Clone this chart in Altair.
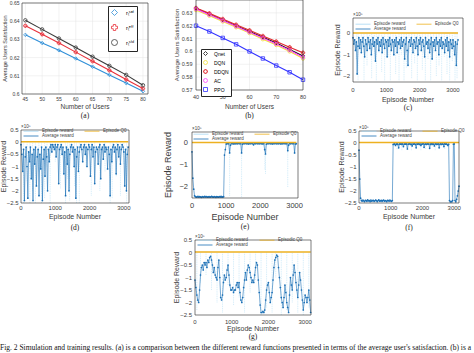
import altair as alt
import pandas as pd

W, H = 474, 353
FONT = "Liberation Sans"
SERIF = "Liberation Serif"
INK = "#262626"
TXT = "#3c3c3c"
GRID = "#e4e4e4"

# ---------------- panel (a) ----------------
a_users = [45, 50, 55, 60, 65, 70, 75, 80]
a_names = ["rₜˢᵃᵗ", "rₜᵉᶠᶠ", "rₜˢᵗᵈ"]
a_blue = [0.6325, 0.628, 0.624, 0.6195, 0.615, 0.6105, 0.606, 0.6015]
a_red = [0.6375, 0.6328, 0.628, 0.623, 0.618, 0.613, 0.608, 0.603]
a_black = [0.6405, 0.6355, 0.6305, 0.6255, 0.6205, 0.6155, 0.6105, 0.6048]
a_xticks = [45, 50, 55, 60, 65, 70, 75, 80]
a_yticks = [0.6, 0.61, 0.62, 0.63, 0.64, 0.65]

# ---------------- panel (b) ----------------
b_users = [40, 45, 50, 55, 60, 65, 70, 75, 80]
b_names = ["Qnet", "DQN", "DDQN", "AC", "PPO"]
b_qnet = [0.6335, 0.629, 0.6245, 0.620, 0.6155, 0.611, 0.6065, 0.6015, 0.5965]
b_dqn = [0.6322, 0.6278, 0.6233, 0.6188, 0.6143, 0.6095, 0.605, 0.6, 0.5945]
b_ddqn = [0.6338, 0.6296, 0.6252, 0.6208, 0.6164, 0.612, 0.6077, 0.6033, 0.599]
b_ac = [0.633, 0.6285, 0.624, 0.6195, 0.615, 0.6105, 0.6058, 0.601, 0.5955]
b_ppo = [0.620, 0.6155, 0.6105, 0.6055, 0.6, 0.5945, 0.589, 0.5838, 0.578]
b_xticks = [40, 50, 60, 70, 80]
b_yticks = [0.57, 0.58, 0.59, 0.6, 0.61, 0.62, 0.63]

# ---------------- training curves (x10^5), sampled every EP_STEP episodes ----------------
EP_STEP = 25
ep_names = ["Episode reward", "Episode Q0", "Average reward"]
g_names = ["Episodic reward", "Episodic Q0", "Average reward"]

c_avg = [-0.2, -0.5, -0.3, -0.8, -0.4, -1.9, -0.6, -0.2, -0.7, -0.3,
         -0.9, -0.4, -0.2, -0.6, -1.1, -0.3, -0.5, -0.8, -0.2, -0.4,
         -0.7, -0.3, -1.0, -0.5, -0.2, -0.6, -0.4, -1.3, -0.3, -0.5,
         -0.2, -0.8, -0.4, -0.6, -0.3, -0.9, -0.2, -0.5, -0.7, -0.3,
         -0.4, -1.1, -0.3, -0.6, -0.2, -0.5, -0.8, -0.3, -0.4, -1.0,
         -0.3, -0.6, -0.2, -0.9, -0.4, -0.5, -0.3, -0.7, -0.2, -0.6,
         -0.4, -0.3, -1.2, -0.5, -0.2, -0.8, -1.5, -0.4, -0.3, -0.6,
         -0.2, -0.5, -0.9, -0.3, -0.4, -0.7, -0.2, -0.6, -1.0, -0.3,
         -0.5, -0.2, -0.8, -0.4, -0.3, -0.6, -1.1, -0.2, -0.5, -0.4,
         -0.7, -0.3, -0.9, -0.5, -0.2, -1.2, -0.4, -0.6, -0.3, -0.8,
         -0.2, -0.5, -0.4, -1.0, -0.3, -0.6, -0.2, -0.7, -0.4, -0.5,
         -0.9, -0.3, -0.6, -0.2, -0.8, -0.4, -1.1, -0.3, -0.5, -0.7,
         -0.3, -0.6, -1.0, -0.4, -1.5, -0.5, -0.3]
c_spike_x = [100, 150, 250, 330, 420, 500, 560, 640, 700, 780, 860, 950, 1050, 1120,
             1200, 1280, 1380, 1450, 1530, 1600, 1680, 1760, 1850, 1930, 2000, 2080,
             2170, 2250, 2330, 2420, 2500, 2580, 2660, 2740, 2820, 2900, 2980, 3060, 3120]
c_spike_y = [-1.2, -2.2, -0.9, -2.2, -1.5, -0.8, -2.1, -1.3, -2.2, -0.9, -1.8, -2.2, -1.1,
             -2.2, -0.7, -1.9, -2.2, -1.0, -2.2, -1.6, -0.9, -2.1, -1.4, -2.2, -0.8, -1.7,
             -2.2, -1.2, -2.2, -0.9, -2.0, -1.5, -2.2, -1.1, -1.9, -2.2, -1.3, -2.2, -2.1]

d_avg = [-0.1, -0.5, -1.2, -0.3, -2.4, -0.6, -0.2, -1.0, -2.3, -0.4,
         -0.8, -0.2, -1.5, -0.5, -2.4, -0.3, -0.9, -0.2, -1.8, -0.6,
         -0.3, -2.2, -0.5, -1.1, -0.2, -2.4, -0.7, -0.3, -1.4, -0.2,
         -0.6, -2.0, -0.3, -0.8, -0.2, -0.1, -0.4, -0.1, -0.2, -0.3,
         -0.1, -0.6, -0.2, -0.1, -1.7, -0.3, -0.2, -0.1, -0.5, -0.2,
         -1.3, -0.4, -2.2, -0.2, -0.9, -0.3, -2.0, -0.5, -0.2, -0.1,
         -0.4, -0.2, -1.0, -0.3, -2.3, -0.6, -0.2, -1.2, -0.4, -0.2,
         -0.1, -0.3, -0.8, -0.2, -0.1, -0.5, -0.2, -1.0, -0.3, -0.1,
         -0.2, -1.4, -0.3, -0.1, -0.6, -0.2, -1.7, -0.4, -0.2, -0.3,
         -0.9, -0.2, -0.1, -1.5, -0.3, -0.2, -0.7, -0.1, -0.4, -0.2,
         -0.3, -1.1, -0.2, -0.5, -2.2, -0.3, -0.8, -0.2, -0.1, -0.4,
         -0.2, -1.3, -0.3, -0.1, -0.6, -0.2, -0.9, -0.3, -0.1, -0.2,
         -0.4, -1.8, -0.3, -2.0, -0.5, -0.2]
d_spike_x = [80, 180, 260, 340, 420, 520, 600, 690, 760, 850, 1000, 1150, 1300, 1360, 1420,
             1560, 1620, 1700, 1900, 2050, 2150, 2300, 2450, 2600, 2660, 2780, 2900, 3000, 3080]
d_spike_y = [-2.5, -1.6, -2.5, -2.0, -2.5, -1.2, -2.5, -2.3, -1.0, -2.5, -0.8, -1.9, -2.5,
             -1.5, -2.4, -1.8, -2.5, -2.5, -1.0, -2.2, -1.5, -2.0, -1.2, -2.5, -2.3, -1.4,
             -2.2, -0.9, -2.5]

e_avg = [-0.4, -1.6, -2.1, -2.4,
         -2.44, -2.46, -2.45, -2.43, -2.46, -2.44, -2.45, -2.47, -2.44, -2.45,
         -2.46, -2.43, -2.45, -2.44, -2.46, -2.45, -2.44, -2.46, -2.45, -2.43,
         -2.45, -2.46, -2.44, -2.45, -2.47, -2.44, -2.45, -2.46, -2.44, -2.45,
         -2.43, -2.46, -2.45, -2.44,
         -0.55, -0.3, -0.04,
         -0.03, -0.02, -0.03, -0.45, -0.1,
         -0.02, -0.03, -0.02, -0.04, -0.02, -0.03, -0.02, -0.03, -0.02, -0.02, -0.03, -0.02,
         -0.45, -0.05,
         -0.02, -0.03, -0.02, -0.02, -0.03, -0.02, -0.04, -0.02, -0.03, -0.02, -0.02, -0.03,
         -0.08,
         -0.02, -0.03, -0.02, -0.02, -0.03, -0.02, -0.03, -0.02, -0.02, -0.04, -0.02, -0.03,
         -0.3, -0.5, -0.05,
         -0.02, -0.03, -0.02, -0.02, -0.03, -0.02, -0.04, -0.02, -0.03, -0.02, -0.02, -0.03,
         -0.02, -0.03, -0.02, -0.02, -0.04, -0.02, -0.03, -0.02, -0.02, -0.03, -0.02, -0.03,
         -0.35, -0.1,
         -0.02, -0.03, -0.02, -0.02, -0.03, -0.02,
         -0.45, -0.04, -0.03]
e_spike_x = [1100, 1450, 1800, 2130, 2150, 2800, 3000]
e_spike_y = [-2.4, -2.45, -0.1, -1.2, -1.4, -2.0, -0.5]

f_avg = [-0.3, -1.5, -2.3,
         -2.4, -2.42, -2.38, -2.41, -2.44, -2.39, -2.4, -2.43, -2.37, -2.41,
         -2.4, -2.44, -2.38, -2.42, -2.4, -2.39, -2.43, -2.41, -2.38, -2.4,
         -2.44, -2.4, -2.37, -2.42, -2.41, -2.39, -2.43, -2.4, -2.38, -2.42,
         -2.4, -2.41, -2.44, -2.39, -2.4, -2.42, -2.38, -2.41, -2.43, -2.4,
         -0.06,
         -0.05, -0.04, -0.1, -0.05, -0.03, -0.06, -0.2, -0.04, -0.05, -0.03,
         -0.06, -0.04, -0.15, -0.05, -0.03, -0.05, -0.04, -0.25, -0.05, -0.04,
         -0.03, -0.06, -0.05, -0.12, -0.04, -0.05, -0.03, -0.06, -0.2, -0.04,
         -0.05, -0.03, -0.06, -0.04, -0.1, -0.05, -0.04, -0.03, -0.18, -0.05,
         -0.04, -0.06, -0.03, -0.05, -0.04, -0.22, -0.05, -0.03, -0.06, -0.04,
         -0.05, -0.12, -0.04, -0.03, -0.06, -0.05, -0.04, -0.2, -0.05, -0.03,
         -0.06, -0.04, -0.05, -0.15, -0.03, -0.05, -0.04, -0.06, -0.1, -0.05,
         -2.4, -2.45, -2.43, -2.45, -2.4, -0.05, -0.04, -2.4, -2.45, -2.35, -2.2, -2.0, -1.8]
f_spike_x = [1200, 1350, 1500, 1650, 1800, 1950, 2100, 2250, 2400, 2550, 2700]
f_spike_y = [-0.25, -0.3, -0.2, -0.3, -0.15, -0.3, -0.25, -0.2, -0.3, -0.2, -0.25]

g_avg = [-1.1, -1.4, -1.7, -1.9, -2.0, -1.5, -0.9, -0.6, -0.5, -0.7,
         -0.4, -0.5, -0.4, -0.6, -0.3, -0.4, -0.2, -0.15, -0.3, -0.5,
         -0.8, -0.6, -0.9, -1.0, -1.1, -0.6, -0.3, -1.0, -1.8, -1.9,
         -1.7, -1.2, -0.9, -1.1, -1.0, -0.7, -0.5, -0.9, -1.3, -1.5,
         -1.5, -1.4, -1.6, -1.5, -1.5, -1.3, -1.2, -1.4, -1.2, -1.6,
         -1.9, -2.0, -1.8, -1.4, -1.1, -0.8, -1.1, -0.7, -0.5, -0.6,
         -0.8, -1.0, -1.2, -1.1, -1.2, -0.9, -0.6, -0.4, -0.5, -1.1,
         -1.6, -2.1, -2.4, -2.4, -2.35, -2.4, -2.3, -1.9, -1.5, -1.3,
         -1.2, -1.6, -2.0, -1.8, -1.6, -1.1, -0.6, -0.3, -0.2, -0.1,
         -0.15, -0.6, -1.0, -1.4, -1.8, -2.0, -2.2, -1.8, -1.3, -1.6,
         -2.0, -2.2, -2.4, -1.7, -1.0, -1.3, -1.5, -0.9, -0.5, -0.8,
         -1.2, -1.5, -1.8, -1.3, -0.8, -1.1, -1.5, -1.9, -2.3, -2.0,
         -1.7, -1.8, -2.0, -1.8, -1.5, -1.9, -2.4]
g_spike_x = [50, 150, 300, 450, 600, 750, 900, 1050, 1200, 1350, 1500, 1650, 1800, 1950,
             2100, 2200, 2350, 2500, 2650, 2800, 2950, 3100]
g_spike_y = [-2.3, -1.2, -0.9, -1.5, -2.0, -2.4, -1.3, -2.1, -1.8, -2.4, -1.6, -1.1, -2.5,
             -2.2, -2.4, -1.0, -2.5, -2.3, -2.0, -2.4, -2.5, -2.2]

q0_level = [0.02, 0.02]

ep_yticks_full = [0.5, 0, -0.5, -1, -1.5, -2, -2.5]
ep_yticks_int = [0, -1, -2]
ep_xticks = [0, 1000, 2000, 3000]

caption = ("Fig. 2 Simulation and training results. (a) is a comparison between the different "
           "reward functions presented in terms of the average user's satisfaction. (b) is a")

# colours in legend-domain order: reward, average, Q0
EP_COLORS = ["#a7d8f3", "#1a6fb5", "#EDB120"]


def frame(xd, yd, xs, ys):
    df = pd.DataFrame({"x0": [xd[0]], "x1": [xd[1]], "y0": [yd[0]], "y1": [yd[1]]})
    return alt.Chart(df).mark_rect(fill="white", fillOpacity=0, stroke=INK, strokeWidth=0.6).encode(
        x=alt.X("x0:Q", scale=xs, axis=None), x2="x1:Q",
        y=alt.Y("y0:Q", scale=ys, axis=None), y2="y1:Q")


def axis_text(xd, yd, xs, ys, xticks, yticks, xfmt, yfmt, lsize, xl_dy, yl_dx,
              xtitle, sub, tsize, xt_dy, sub_dy, ytitle, ysize, yt_dx):
    """Tick labels and titles, positioned through the panel's own scales."""
    xl = alt.Chart(pd.DataFrame({"t": xticks})).mark_text(
        baseline="middle", align="center", fontSize=lsize, font=FONT, fontWeight="normal",
        color=TXT, dy=xl_dy).encode(
        x=alt.X("t:Q", scale=xs, axis=None), y=alt.YDatum(yd[0], scale=ys, axis=None),
        text=alt.Text("t:Q", format=xfmt))
    yl = alt.Chart(pd.DataFrame({"t": yticks})).mark_text(
        baseline="middle", align="right", fontSize=lsize, font=FONT, fontWeight="normal",
        color=TXT, dx=-yl_dx).encode(
        y=alt.Y("t:Q", scale=ys, axis=None), x=alt.XDatum(xd[0], scale=xs, axis=None),
        text=alt.Text("t:Q", format=yfmt))
    xmid = (xd[0] + xd[1]) / 2
    ymid = (yd[0] + yd[1]) / 2
    xt = alt.Chart(pd.DataFrame({"t": [xtitle]})).mark_text(
        baseline="middle", align="center", fontSize=tsize, font=FONT, fontWeight="normal",
        color=TXT, dy=xt_dy).encode(
        x=alt.XDatum(xmid, scale=xs, axis=None), y=alt.YDatum(yd[0], scale=ys, axis=None), text="t:N")
    st = alt.Chart(pd.DataFrame({"t": [sub]})).mark_text(
        baseline="middle", align="center", fontSize=7.5, font=SERIF, fontWeight="normal",
        color="#222", dy=sub_dy).encode(
        x=alt.XDatum(xmid, scale=xs, axis=None), y=alt.YDatum(yd[0], scale=ys, axis=None), text="t:N")
    yt = alt.Chart(pd.DataFrame({"t": [ytitle]})).mark_text(
        baseline="middle", align="center", angle=270, fontSize=ysize, font=FONT,
        fontWeight="normal", color=TXT, dy=-yt_dx).encode(
        x=alt.XDatum(xd[0], scale=xs, axis=None), y=alt.YDatum(ymid, scale=ys, axis=None), text="t:N")
    return [xl, yl, xt, st, yt]


def grid(xticks, yticks, xd, yd, xs, ys):
    gx = alt.Chart(pd.DataFrame({"t": xticks})).mark_rule(color=GRID, strokeWidth=0.5).encode(
        x=alt.X("t:Q", scale=xs, axis=None),
        y=alt.YDatum(yd[0], scale=ys, axis=None), y2=alt.datum(yd[1]))
    gy = alt.Chart(pd.DataFrame({"t": yticks})).mark_rule(color=GRID, strokeWidth=0.5).encode(
        y=alt.Y("t:Q", scale=ys, axis=None),
        x=alt.XDatum(xd[0], scale=xs, axis=None), x2=alt.datum(xd[1]))
    return [gx, gy]


def curve_panel(xd, xr, yd, yr, names, users, series, colors, shapes, xticks, yticks,
                leg, txt):
    xs = alt.Scale(domain=xd, range=xr, nice=False, zero=False)
    ys = alt.Scale(domain=yd, range=yr, nice=False, zero=False)
    rows = []
    for n, vals in zip(names, series):
        for u, v in zip(users, vals):
            rows.append({"u": u, "v": v, "s": n})
    df = pd.DataFrame(rows)
    cs = alt.Scale(domain=names, range=colors)
    line = alt.Chart(df).mark_line(strokeWidth=1.1).encode(
        x=alt.X("u:Q", scale=xs, axis=None), y=alt.Y("v:Q", scale=ys, axis=None),
        color=alt.Color("s:N", scale=cs, legend=leg), detail="s:N")
    pts = alt.Chart(df).mark_point(filled=False, size=12, strokeWidth=0.8, opacity=1).encode(
        x=alt.X("u:Q", scale=xs, axis=None), y=alt.Y("v:Q", scale=ys, axis=None),
        color=alt.Color("s:N", scale=cs, legend=None),
        shape=alt.Shape("s:N", scale=alt.Scale(domain=names, range=shapes), legend=None))
    return alt.layer(*grid(xticks, yticks, xd, yd, xs, ys), line, pts,
                     frame(xd, yd, xs, ys), *axis_text(xd, yd, xs, ys, xticks, yticks, **txt))


def train_panel(xd, xr, yd, yr, names, avg, spx, spy, leg, txt):
    xs = alt.Scale(domain=xd, range=xr, nice=False, zero=False)
    ys = alt.Scale(domain=yd, range=yr, nice=False, zero=False)
    cs = alt.Scale(domain=[names[0], names[2], names[1]], range=EP_COLORS)
    eps = [i * EP_STEP for i in range(len(avg))]
    avg_df = pd.DataFrame({"ep": eps, "r": avg, "s": names[2]})
    spk_df = pd.DataFrame({"ep": spx, "r": spy, "s": names[0]})
    q0_df = pd.DataFrame({"ep": [0, eps[-1]], "r": q0_level, "s": names[1]})
    X = alt.X("ep:Q", scale=xs, axis=None)
    Y = alt.Y("r:Q", scale=ys, axis=None)
    spikes = alt.Chart(spk_df).mark_rule(strokeWidth=0.5, strokeDash=[1, 0.8]).encode(
        x=X, y=Y, y2=alt.datum(0), color=alt.Color("s:N", scale=cs, legend=leg))
    line = alt.Chart(avg_df).mark_line(strokeWidth=0.6).encode(
        x=X, y=Y, color=alt.Color("s:N", scale=cs, legend=None))
    pts = alt.Chart(avg_df).mark_point(filled=True, size=3, opacity=1).encode(
        x=X, y=Y, color=alt.Color("s:N", scale=cs, legend=None))
    q0 = alt.Chart(q0_df).mark_line(strokeWidth=1.6).encode(
        x=X, y=Y, color=alt.Color("s:N", scale=cs, legend=None))
    exp = alt.Chart(pd.DataFrame({"t": ["×10⁵"]})).mark_text(
        align="left", baseline="bottom", dy=-1, fontSize=4.5, font=FONT, color=TXT).encode(
        x=alt.XDatum(xd[0], scale=xs, axis=None), y=alt.YDatum(yd[1], scale=ys, axis=None),
        text="t:N")
    return alt.layer(spikes, line, pts, q0, exp, frame(xd, yd, xs, ys),
                     *axis_text(xd, yd, xs, ys, ep_xticks, txt.pop("yticks"), **txt))


def ep_legend(lx, ly):
    return alt.Legend(orient="none", legendX=lx, legendY=ly, title=None, columns=2,
                      symbolType="M-3,0L3,0", symbolSize=25, symbolStrokeWidth=0.8,
                      labelFontSize=4.5, labelOffset=8, columnPadding=8, rowPadding=0,
                      padding=0, labelColor="#444", labelFont=FONT)


def ep_txt(yticks, lsize, xl_dy, yl_dx, sub, tsize, xt_dy, sub_dy, yt_dx, title="Episode Number"):
    return dict(yticks=yticks, xfmt="d", yfmt="~g", lsize=lsize, xl_dy=xl_dy, yl_dx=yl_dx,
                xtitle=title, sub=sub, tsize=tsize, xt_dy=xt_dy, sub_dy=sub_dy,
                ytitle="Episode Reward", ysize=tsize, yt_dx=yt_dx)


# ---- build panels ----
pa = curve_panel(
    [44, 81.5], [22, 148], [0.6, 0.65], [94, 3], a_names, a_users,
    [a_blue, a_red, a_black], ["#2f8fd8", "#e8303a", "#3a3a3a"], ["diamond", "cross", "circle"],
    a_xticks, a_yticks,
    alt.Legend(orient="none", legendX=108, legendY=6, title=None, symbolType="M-2.5,0L2.5,0",
               symbolSize=36, symbolStrokeWidth=0.8, labelFontSize=5.5, labelOffset=8,
               rowPadding=4, padding=3, strokeColor=INK, fillColor="white", labelFont=FONT),
    dict(xfmt="d", yfmt="~g", lsize=5, xl_dy=4.5, yl_dx=2.5, xtitle="Number of Users", sub="(a)",
         tsize=6.5, xt_dy=13, sub_dy=22, ytitle="Average Users Satisfaction", ysize=5.5, yt_dx=17))

pb = curve_panel(
    [40, 80], [196, 303], [0.57, 0.64], [90, 0], b_names, b_users,
    [b_qnet, b_dqn, b_ddqn, b_ac, b_ppo],
    ["#111111", "#f2e03c", "#e0262b", "#ff44ff", "#3232ff"],
    ["diamond", "circle", "cross", "circle", "square"],
    b_xticks, b_yticks,
    alt.Legend(orient="none", legendX=201, legendY=49, title=None, symbolType="M-2.5,0L2.5,0",
               symbolSize=16, symbolStrokeWidth=0.8, labelFontSize=5, labelOffset=6,
               rowPadding=0, padding=2, strokeColor=INK, fillColor="white", labelFont=FONT),
    dict(xfmt="d", yfmt="~g", lsize=5.5, xl_dy=6.5, yl_dx=3.5, xtitle="Number of Users", sub="(b)",
         tsize=6.5, xt_dy=16.5, sub_dy=26, ytitle="Average Users Satisfaction", ysize=6, yt_dx=19))

pc = train_panel([0, 3300], [353, 463], [-2.28, 0.72], [82, 18], ep_names, c_avg,
                 c_spike_x, c_spike_y, ep_legend(360, 21),
                 ep_txt(ep_yticks_int, 6, 8, 3, "(c)", 7, 17.5, 26, 15))
pd_ = train_panel([0, 3150], [21, 129], [-2.5, 0.5], [203, 130], ep_names, d_avg,
                  d_spike_x, d_spike_y, ep_legend(28, 128),
                  ep_txt(ep_yticks_full, 6, 4.5, 2.5, "(d)", 7, 14, 25, 17))
pe = train_panel([0, 3100], [192, 298], [-2.5, 0.5], [198, 132], ep_names, e_avg,
                 e_spike_x, e_spike_y, ep_legend(198, 131),
                 ep_txt(ep_yticks_int, 7.5, 8, 4, "(e)", 9, 19, 29, 24))
pf = train_panel([0, 3150], [359, 459], [-2.5, 0.5], [203, 131], ep_names, f_avg,
                 f_spike_x, f_spike_y, ep_legend(366, 128),
                 ep_txt(ep_yticks_full, 6, 4.5, 2.5, "(f)", 7, 14, 25, 17))
pg = train_panel([0, 3160], [195, 311], [-2.5, 0.5], [315, 240], g_names, g_avg,
                 g_spike_x, g_spike_y, ep_legend(202, 237),
                 ep_txt(ep_yticks_full, 6, 6.5, 3, "(g)", 7, 14, 21.5, 18))

chart = alt.layer(pa, pb, pc, pd_, pe, pf, pg).resolve_scale(
    x="independent", y="independent", color="independent", shape="independent"
).resolve_legend(
    color="independent", shape="independent"
).properties(
    width=W, height=H, padding=0, autosize=alt.AutoSizeParams(type="none"),
    title=alt.TitleParams(text=caption, orient="bottom", anchor="start", frame="group",
                          offset=-9.5, fontSize=7.5, font=SERIF,
                          fontWeight="normal", color="#111111")
).configure_view(stroke=None)

chart.save("out.html", embed_options={"renderer": "svg", "actions": False})
